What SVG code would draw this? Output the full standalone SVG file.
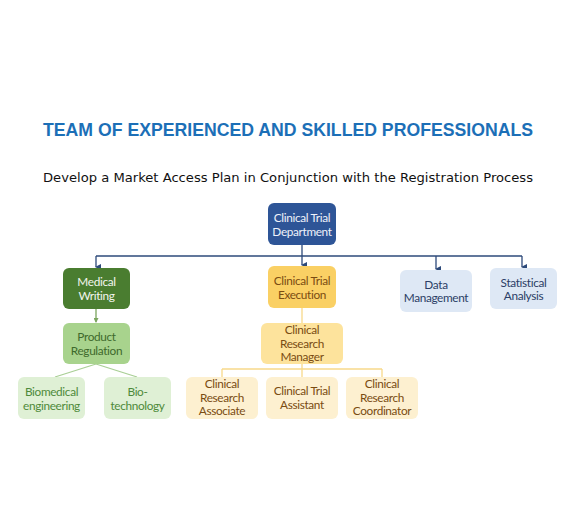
<svg xmlns="http://www.w3.org/2000/svg" width="573" height="519" viewBox="0 0 573 519">
<style>
.t{font-family:Lato,"Open Sans",sans-serif;font-size:11.8px;letter-spacing:-0.35px;text-anchor:middle}
.w{fill:#f2f5ee}.dk{fill:#3e6a2c}.lg{fill:#4e8a3a}.br{fill:#7a4c12}.nv{fill:#2c3e66}.wb{fill:#eef2fa}
.c{fill:none;stroke-width:1.3}
</style>
<defs>
<marker id="ab" markerWidth="6" markerHeight="6" refX="3" refY="5" orient="auto" markerUnits="userSpaceOnUse" viewBox="0 0 6 6"><path d="M0,0 L6,0 L3,6 z" fill="#2d4a7a"/></marker>
<marker id="ag" markerWidth="5" markerHeight="5" refX="2.5" refY="4" viewBox="0 0 5 5" markerUnits="userSpaceOnUse"><path d="M0,0 L5,0 L2.5,5 z" fill="#7aa55e"/></marker>
</defs>
<rect width="573" height="519" fill="#fff"/>
<text x="288" y="136" font-family="'Liberation Sans',Arial,sans-serif" font-weight="bold" font-size="18.5" fill="#1c6fb7" text-anchor="middle" textLength="490" lengthAdjust="spacingAndGlyphs">TEAM OF EXPERIENCED AND SKILLED PROFESSIONALS</text>
<text x="288" y="182" font-family="'DejaVu Sans',Verdana,sans-serif" font-size="13" fill="#111" text-anchor="middle" textLength="490" lengthAdjust="spacingAndGlyphs">Develop a Market Access Plan in Conjunction with the Registration Process</text>
<g id="connectors">
<path class="c" stroke="#2d4a7a" d="M96,256 H522"/>
<path class="c" stroke="#2d4a7a" d="M302,245 V265" marker-end="url(#ab)"/>
<path class="c" stroke="#2d4a7a" d="M96,256 V267" marker-end="url(#ab)"/>
<path class="c" stroke="#2d4a7a" d="M436,256 V269" marker-end="url(#ab)"/>
<path class="c" stroke="#2d4a7a" d="M522,256 V267" marker-end="url(#ab)"/>
<path class="c" stroke="#7aa55e" d="M96,309 V322" marker-end="url(#ag)"/>
<path class="c" stroke="#a9cf95" d="M96,364 L55,377 M96,364 L137,377"/>
<path class="c" stroke="#f7d98a" d="M302,308 V323 M302,364 V369 M222,369 H382 M222,369 V377 M302,369 V377 M382,369 V377"/>
</g>
<g id="n-dept"><rect x="268" y="203" width="68" height="42" rx="6" fill="#2e5597"/><text class="t wb" x="302" y="222">Clinical Trial</text><text class="t wb" x="302" y="235.5">Department</text></g>
<g id="n-medwriting"><rect x="63" y="268" width="67" height="41" rx="6" fill="#4a7d30"/><text class="t w" x="96.5" y="286">Medical</text><text class="t w" x="96.5" y="300">Writing</text></g>
<g id="n-prodreg"><rect x="63" y="323" width="67" height="41" rx="6" fill="#a8d38d"/><text class="t dk" x="96.5" y="341">Product</text><text class="t dk" x="96.5" y="355">Regulation</text></g>
<g id="n-biomed"><rect x="18" y="377" width="67" height="42" rx="6" fill="#dff0d5"/><text class="t lg" x="51.5" y="396">Biomedical</text><text class="t lg" x="51.5" y="409.5">engineering</text></g>
<g id="n-biotech"><rect x="104" y="377" width="67" height="42" rx="6" fill="#dff0d5"/><text class="t lg" x="137.5" y="396">Bio-</text><text class="t lg" x="137.5" y="409.5">technology</text></g>
<g id="n-exec"><rect x="268" y="266" width="68" height="42" rx="6" fill="#fad064"/><text class="t br" x="302" y="285">Clinical Trial</text><text class="t br" x="302" y="298.5">Execution</text></g>
<g id="n-crm"><rect x="261" y="323" width="82" height="41" rx="6" fill="#fde39c"/><text class="t br" x="302" y="334">Clinical</text><text class="t br" x="302" y="347.5">Research</text><text class="t br" x="302" y="361">Manager</text></g>
<g id="n-cra"><rect x="186" y="377" width="72" height="42" rx="6" fill="#fdf0d0"/><text class="t br" x="222" y="388">Clinical</text><text class="t br" x="222" y="401.5">Research</text><text class="t br" x="222" y="415">Associate</text></g>
<g id="n-cta"><rect x="266" y="377" width="72" height="42" rx="6" fill="#fdf0d0"/><text class="t br" x="302" y="395">Clinical Trial</text><text class="t br" x="302" y="408.5">Assistant</text></g>
<g id="n-crc"><rect x="346" y="377" width="72" height="42" rx="6" fill="#fdf0d0"/><text class="t br" x="382" y="388">Clinical</text><text class="t br" x="382" y="401.5">Research</text><text class="t br" x="382" y="415">Coordinator</text></g>
<g id="n-dm"><rect x="400" y="270" width="72" height="42" rx="6" fill="#dee8f5"/><text class="t nv" x="436" y="288.5">Data</text><text class="t nv" x="436" y="302">Management</text></g>
<g id="n-sa"><rect x="490" y="268" width="67" height="41" rx="6" fill="#dee8f5"/><text class="t nv" x="523.5" y="286.5">Statistical</text><text class="t nv" x="523.5" y="300">Analysis</text></g>
</svg>
